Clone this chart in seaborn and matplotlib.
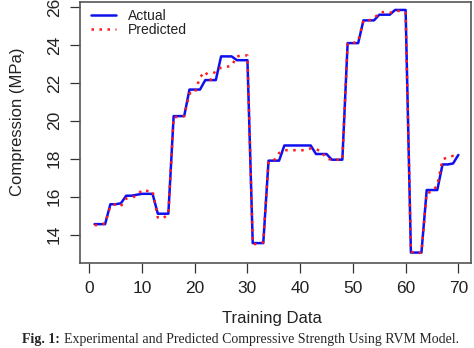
import numpy as np
import pandas as pd
import matplotlib
matplotlib.use("Agg")
import matplotlib.pyplot as plt
import seaborn as sns

sample_index = list(range(1, 71))
actual = [14.55, 14.55, 14.55, 15.6, 15.6, 15.65, 16.05, 16.05, 16.1, 16.15,
          16.15, 16.15, 15.1, 15.1, 15.1, 20.25, 20.25, 20.25, 21.65, 21.65,
          21.65, 22.15, 22.15, 22.15, 23.4, 23.4, 23.4, 23.2, 23.2, 23.2,
          13.55, 13.55, 13.55, 17.9, 17.9, 17.9, 18.7, 18.7, 18.7, 18.7,
          18.7, 18.7, 18.25, 18.25, 18.25, 17.95, 17.95, 17.95, 24.1, 24.1,
          24.1, 25.3, 25.3, 25.3, 25.6, 25.6, 25.6, 25.85, 25.85, 25.85,
          13.05, 13.05, 13.05, 16.35, 16.35, 16.35, 17.7, 17.7, 17.75, 18.2]
predicted = [14.5, 14.5, 14.6, 15.5, 15.6, 15.5, 15.9, 15.95, 16.05, 16.35,
             16.3, 16.3, 14.9, 14.85, 15.1, 20.2, 20.2, 20.25, 21.45, 21.45,
             22.3, 22.6, 22.15, 22.7, 22.8, 22.85, 22.9, 23.4, 23.45, 23.45,
             13.5, 13.5, 13.6, 17.85, 17.9, 18.3, 18.45, 18.45, 18.45, 18.45,
             18.45, 18.55, 18.5, 18.4, 18.0, 17.95, 17.95, 17.95, 24.1, 24.1,
             24.2, 25.3, 25.3, 25.4, 25.7, 25.75, 25.7, 25.8, 25.8, 25.7,
             13.1, 13.0, 13.05, 16.2, 16.25, 16.6, 17.95, 18.1, 18.15, 18.15]
x_ticks = [0, 10, 20, 30, 40, 50, 60, 70]
y_ticks = [14, 16, 18, 20, 22, 24, 26]

sns.set_style("white")
plt.rcParams['font.family'] = ['Liberation Sans', 'DejaVu Sans']

df_a = pd.DataFrame({"x": sample_index, "y": actual})
df_p = pd.DataFrame({"x": sample_index, "y": predicted})

fig = plt.figure(figsize=(4.74, 3.48), dpi=100)
ax = fig.add_axes([80/474, 1-263/348, (471-80)/474, (263-2)/348])

sns.lineplot(data=df_a, x="x", y="y", ax=ax, color="#1010ee", linewidth=1.8,
             label="Actual")
sns.lineplot(data=df_p, x="x", y="y", ax=ax, color="#ff1a1a", linewidth=1.8,
             label="Predicted")
ax.lines[1].set_linestyle((0, (1, 2.2)))

ax.set_xlim(-1.76, 72.4)
ax.set_ylim(12.5, 26.27)
ax.set_xticks(x_ticks)
ax.set_yticks(y_ticks)
ax.set_xticklabels([str(t) for t in x_ticks], fontsize=12.5, color="#222222")
ax.set_yticklabels([str(t) for t in y_ticks], fontsize=12.5, color="#222222",
                   rotation=90, va="center")
ax.tick_params(axis="both", direction="out", length=7, width=0.9,
               color="#333333", left=True, bottom=True, pad=6)
for s in ax.spines.values():
    s.set_color("#555555")
    s.set_linewidth(1.2)

ax.set_xlabel("")
ax.set_ylabel("")
fig.text(18/474, 1-122/348, "Compression (MPa)", rotation=90, ha="center",
         va="center", fontsize=12, color="#222222")
fig.text(272/474, 1-318/348, "Training Data", ha="center", va="center",
         fontsize=12, color="#222222")

leg = ax.legend(loc="upper left", frameon=False, fontsize=10,
                handlelength=1.8, borderaxespad=0.0, labelspacing=0.0,
                handletextpad=0.85, bbox_to_anchor=(0.015, 0.995))
for t in leg.get_texts():
    t.set_color("#222222")

fig.text(22/474, 1-339/348, "Fig. 1:", ha="left", va="center", fontsize=10,
         fontweight="bold", family=["Liberation Serif", "DejaVu Serif"])
fig.text(64/474, 1-339/348,
         "Experimental and Predicted Compressive Strength Using RVM Model.",
         ha="left", va="center", fontsize=10,
         family=["Liberation Serif", "DejaVu Serif"])

fig.savefig("out.png", dpi=100)
